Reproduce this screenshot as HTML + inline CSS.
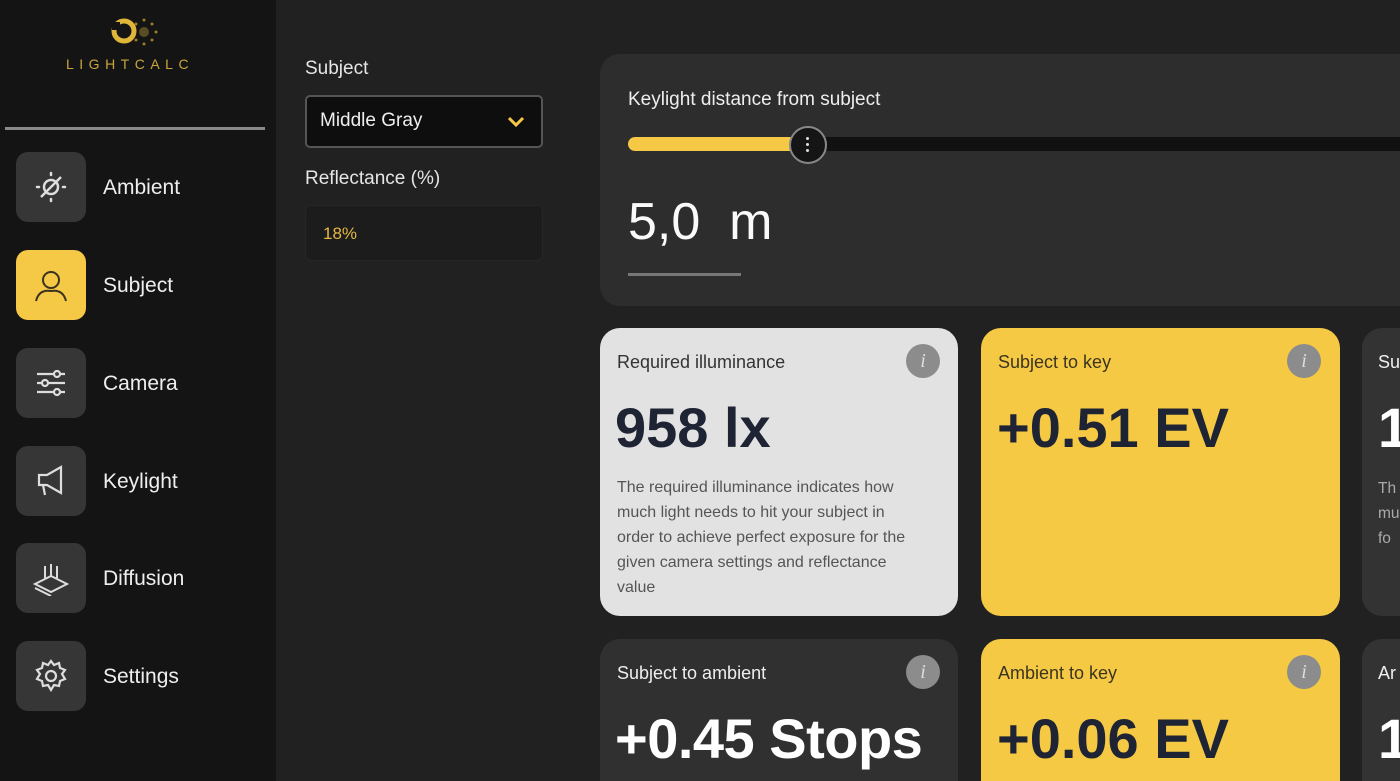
<!DOCTYPE html>
<html style="width:1400px;height:781px;overflow:hidden"><head><meta charset="utf-8"><style>
*{margin:0;padding:0;box-sizing:border-box}
body{width:1400px;height:781px;overflow:hidden;background:#212121;font-family:"Liberation Sans",sans-serif;position:relative;color:#eee}
.side{position:absolute;left:0;top:0;width:276px;height:781px;background:#141414}
.abs{position:absolute}
.nav .box{position:absolute;left:16px;width:70px;height:70px;border-radius:12px;background:#363636;display:flex;align-items:center;justify-content:center}
.nav .lbl{position:absolute;left:103px;font-size:21px;color:#eee}
.card{position:absolute;border-radius:20px}
.info{position:absolute;width:34px;height:34px;border-radius:50%;background:#8c8c8c;color:#ddd;font-style:italic;font-family:"Liberation Serif",serif;font-size:20px;text-align:center;line-height:34px}
</style></head><body>
<div class="side">
  <svg class="abs" style="left:110px;top:14px" width="50" height="34" viewBox="0 0 50 34">
    <circle cx="14" cy="17" r="10" fill="none" stroke="#e0b63a" stroke-width="5"/>
    <rect x="2" y="8" width="8" height="8" fill="#141414"/>
    <circle cx="34" cy="18" r="5" fill="#5a4c24"/>
    <g fill="#9c7e2a"><circle cx="34" cy="6" r="1.5"/><circle cx="34" cy="30" r="1.5"/><circle cx="46" cy="18" r="1.5"/><circle cx="42" cy="10" r="1.5"/><circle cx="42" cy="26" r="1.5"/><circle cx="26" cy="10" r="1.5"/><circle cx="26" cy="26" r="1.5"/></g>
  </svg>
  <div class="abs" style="left:66px;top:56px;font-size:14px;letter-spacing:5.5px;color:#c9a53c">LIGHTCALC</div>
  <div class="abs" style="left:5px;top:127px;width:260px;height:3px;background:#8a8a8a"></div>
  <div class="nav">
    <div class="box" style="top:152px"><svg width="36" height="36" viewBox="0 0 36 36" stroke="#ddd" stroke-width="2.5" fill="none"><circle cx="18" cy="18" r="7"/><line x1="8" y1="28" x2="28" y2="8"/><g stroke-linecap="round"><line x1="18" y1="4" x2="18" y2="6"/><line x1="18" y1="30" x2="18" y2="32"/><line x1="4" y1="18" x2="6" y2="18"/><line x1="30" y1="18" x2="32" y2="18"/></g></svg></div>
    <div class="lbl" style="top:176px">Ambient</div>
    <div class="box" style="top:250px;background:#f5c845"><svg width="40" height="40" viewBox="0 0 40 40" stroke="#3a3320" stroke-width="2" fill="none"><circle cx="20" cy="15" r="8"/><path d="M5 36 Q8 24 20 26 Q32 24 35 36"/></svg></div>
    <div class="lbl" style="top:274px">Subject</div>
    <div class="box" style="top:348px"><svg width="36" height="36" viewBox="0 0 36 36" stroke="#ddd" stroke-width="2.2" fill="none"><line x1="4" y1="9" x2="32" y2="9"/><line x1="4" y1="18" x2="32" y2="18"/><line x1="4" y1="27" x2="32" y2="27"/><circle cx="24" cy="9" r="3" fill="#363636"/><circle cx="12" cy="18" r="3" fill="#363636"/><circle cx="24" cy="27" r="3" fill="#363636"/></svg></div>
    <div class="lbl" style="top:372px">Camera</div>
    <div class="box" style="top:446px"><svg width="36" height="36" viewBox="0 0 36 36" stroke="#ddd" stroke-width="2.2" fill="none"><path d="M6 12 L14 12 L28 4 L28 30 L14 22 L6 22Z"/><path d="M10 22 L12 32"/></svg></div>
    <div class="lbl" style="top:470px">Keylight</div>
    <div class="box" style="top:543px"><svg width="40" height="36" viewBox="0 0 40 36" stroke="#ddd" stroke-width="2" fill="none"><path d="M4 24 L20 32 L36 24 L20 16Z"/><path d="M4 28 L20 36"/><path d="M14 18 V6 M20 16 V4 M26 18 V6"/></svg></div>
    <div class="lbl" style="top:567px">Diffusion</div>
    <div class="box" style="top:641px"><svg width="36" height="36" viewBox="0 0 36 36" stroke="#ddd" stroke-width="2.2" fill="none"><circle cx="18" cy="18" r="5"/><path d="M18 3 L21 7 L26 5 L27 10 L32 12 L29 16 L32 21 L27 23 L26 28 L21 27 L18 32 L15 27 L10 28 L9 23 L4 21 L7 16 L4 12 L9 10 L10 5 L15 7Z"/></svg></div>
    <div class="lbl" style="top:665px">Settings</div>
  </div>
</div>

<div class="abs" style="left:305px;top:58px;font-size:19px;color:#e6e6e6">Subject</div>
<div class="abs" style="left:305px;top:95px;width:238px;height:53px;background:#0e0e0e;border:2px solid #555;border-radius:5px"></div>
<div class="abs" style="left:320px;top:110px;font-size:19px;color:#eee">Middle Gray</div>
<svg class="abs" style="left:506px;top:115px" width="20" height="14" viewBox="0 0 20 14"><path d="M3 3 L10 10 L17 3" stroke="#f5c845" stroke-width="3" fill="none"/></svg>
<div class="abs" style="left:305px;top:168px;font-size:19px;color:#e6e6e6">Reflectance (%)</div>
<div class="abs" style="left:305px;top:205px;width:238px;height:56px;background:#1c1c1c;border:1px solid #262626;border-radius:6px"></div>
<div class="abs" style="left:323px;top:224px;font-size:17px;color:#e5b840">18%</div>

<div class="card" style="left:600px;top:54px;width:830px;height:252px;background:#2d2d2d"></div>
<div class="abs" style="left:628px;top:89px;font-size:19px;color:#eee">Keylight distance from subject</div>
<div class="abs" style="left:628px;top:137px;width:800px;height:14px;background:#111;border-radius:7px"></div>
<div class="abs" style="left:628px;top:137px;width:185px;height:14px;background:#f5c845;border-radius:7px"></div>
<div class="abs" style="left:789px;top:126px;width:38px;height:38px;border-radius:50%;background:#151515;border:2px solid #888"></div>
<div class="abs" style="left:806px;top:137px;width:3px;height:3px;background:#ddd;border-radius:50%;box-shadow:0 6px 0 #ddd,0 12px 0 #ddd"></div>
<div class="abs" style="left:628px;top:192px;font-size:52px;color:#fafafa">5,0 &nbsp;m</div>
<div class="abs" style="left:628px;top:273px;width:113px;height:3px;background:#777"></div>

<div class="card" style="left:600px;top:328px;width:358px;height:288px;background:#e2e2e2"></div>
<div class="abs" style="left:617px;top:352px;font-size:18px;color:#333">Required illuminance</div>
<div class="info" style="left:906px;top:344px">i</div>
<div class="abs" style="left:615px;top:395px;font-size:56px;font-weight:bold;color:#1e2433">958 lx</div>
<div class="abs" style="left:617px;top:475px;width:340px;white-space:nowrap;font-size:16px;line-height:25px;color:#555">The required illuminance indicates how<br>much light needs to hit your subject in<br>order to achieve perfect exposure for the<br>given camera settings and reflectance<br>value</div>

<div class="card" style="left:981px;top:328px;width:359px;height:288px;background:#f6c945"></div>
<div class="abs" style="left:998px;top:352px;font-size:18px;color:#3b3520">Subject to key</div>
<div class="info" style="left:1287px;top:344px">i</div>
<div class="abs" style="left:997px;top:395px;font-size:56px;font-weight:bold;color:#1e2433">+0.51 EV</div>

<div class="card" style="left:1362px;top:328px;width:100px;height:288px;background:#333"></div>
<div class="abs" style="left:1378px;top:352px;font-size:18px;color:#eee">Su</div>
<div class="abs" style="left:1378px;top:395px;font-size:56px;font-weight:bold;color:#fff">1</div>
<div class="abs" style="left:1378px;top:476px;font-size:15.5px;line-height:25px;color:#aaa">Th<br>mu<br>fo</div>

<div class="card" style="left:600px;top:639px;width:358px;height:142px;border-radius:20px 20px 0 0;background:#303030"></div>
<div class="abs" style="left:617px;top:663px;font-size:18px;color:#eee">Subject to ambient</div>
<div class="info" style="left:906px;top:655px">i</div>
<div class="abs" style="left:615px;top:706px;font-size:56px;font-weight:bold;color:#fff;letter-spacing:-0.5px">+0.45 Stops</div>

<div class="card" style="left:981px;top:639px;width:359px;height:142px;border-radius:20px 20px 0 0;background:#f6c945"></div>
<div class="abs" style="left:998px;top:663px;font-size:18px;color:#3b3520">Ambient to key</div>
<div class="info" style="left:1287px;top:655px">i</div>
<div class="abs" style="left:997px;top:706px;font-size:56px;font-weight:bold;color:#1e2433">+0.06 EV</div>

<div class="card" style="left:1362px;top:639px;width:100px;height:142px;border-radius:20px 0 0 0;background:#333"></div>
<div class="abs" style="left:1378px;top:663px;font-size:18px;color:#eee">Ar</div>
<div class="abs" style="left:1378px;top:706px;font-size:56px;font-weight:bold;color:#fff">1</div>
</body></html>
